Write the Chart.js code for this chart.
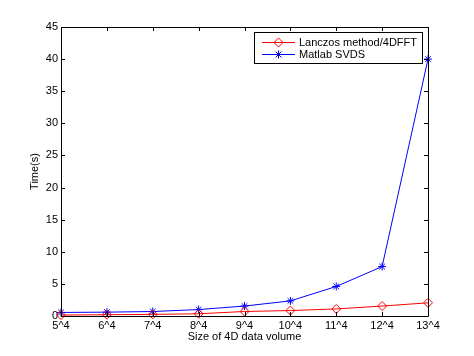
<!DOCTYPE html>
<html>
<head>
<meta charset="utf-8">
<script src="https://cdn.jsdelivr.net/npm/chart.js@4/dist/chart.umd.min.js"></script>
<style>
  html, body { margin: 0; padding: 0; background: #ffffff; }
  #wrap { width: 474px; height: 356px; }
</style>
</head>
<body>
<div id="wrap"><canvas id="c" width="474" height="356"></canvas></div>
<script>
const categories = ['5^4', '6^4', '7^4', '8^4', '9^4', '10^4', '11^4', '12^4', '13^4'];
const lanczosTimes = [0.15, 0.2, 0.25, 0.35, 0.7, 0.85, 1.1, 1.55, 2.05];
const svdsTimes = [0.55, 0.6, 0.7, 1.0, 1.55, 2.35, 4.6, 7.7, 40.0];
const seriesNames = ['Lanczos method/4DFFT', 'Matlab SVDS'];
const yTicks = [0, 5, 10, 15, 20, 25, 30, 35, 40, 45];
const xTitle = 'Size of 4D data volume';
const yTitle = 'Time(s)';

const FONT = '"Liberation Sans", Arial, Helvetica, sans-serif';
const RED = '#ff0000';
const BLUE = '#0000ff';

const matlabFrame = {
  id: 'matlabFrame',
  afterDatasetsDraw(chart) {
    const ctx = chart.ctx;
    const a = chart.chartArea;
    const xs = chart.scales.x, ys = chart.scales.y;
    const L = 4;
    ctx.save();
    ctx.strokeStyle = '#000';
    ctx.lineWidth = 1;
    ctx.beginPath();
    ctx.rect(Math.round(a.left) + 0.5, Math.round(a.top) + 0.5,
             Math.round(a.right - a.left), Math.round(a.bottom - a.top));
    ctx.stroke();
    ctx.beginPath();
    categories.forEach((c, i) => {
      const px = Math.round(xs.getPixelForValue(i)) + 0.5;
      ctx.moveTo(px, a.bottom); ctx.lineTo(px, a.bottom - L);
      ctx.moveTo(px, a.top); ctx.lineTo(px, a.top + L);
    });
    yTicks.forEach(v => {
      const py = Math.round(ys.getPixelForValue(v)) + 0.5;
      ctx.moveTo(a.left, py); ctx.lineTo(a.left + L, py);
      ctx.moveTo(a.right, py); ctx.lineTo(a.right - L, py);
    });
    ctx.stroke();
    ctx.restore();
  }
};

const matlabLegend = {
  id: 'matlabLegend',
  afterDraw(chart) {
    const ctx = chart.ctx;
    const a = chart.chartArea;
    const boxRight = a.right - 6, boxTop = a.top + 5;
    const boxW = 168, boxH = 31;
    const boxLeft = boxRight - boxW;
    ctx.save();
    ctx.fillStyle = '#fff';
    ctx.fillRect(boxLeft, boxTop, boxW, boxH);
    ctx.strokeStyle = '#000';
    ctx.lineWidth = 1;
    ctx.strokeRect(Math.round(boxLeft) + 0.5, Math.round(boxTop) + 0.5, boxW, boxH);
    const ds = chart.data.datasets;
    ds.forEach((d, i) => {
      const y = Math.round(boxTop + 10 + i * 12) + 0.5;
      const x0 = boxLeft + 8, x1 = boxLeft + 41;
      ctx.strokeStyle = d.borderColor;
      ctx.fillStyle = d.pointBackgroundColor;
      ctx.lineWidth = 1;
      ctx.beginPath();
      ctx.moveTo(x0, y); ctx.lineTo(x1, y);
      ctx.stroke();
      Chart.helpers.drawPoint(ctx, {
        pointStyle: d.pointStyle, radius: d.pointRadius, rotation: 0, borderWidth: 1
      }, (x0 + x1) / 2, y);
      ctx.fillStyle = '#000';
      ctx.font = '11px ' + FONT;
      ctx.textBaseline = 'middle';
      ctx.textAlign = 'left';
      ctx.fillText(d.label, x1 + 4, y);
    });
    ctx.restore();
  }
};

new Chart(document.getElementById('c'), {
  type: 'line',
  data: {
    labels: categories,
    datasets: [
      {
        label: seriesNames[0],
        data: lanczosTimes,
        borderColor: RED,
        backgroundColor: 'rgba(0,0,0,0)',
        borderWidth: 1,
        pointStyle: 'rectRot',
        pointRadius: 4.5,
        pointBorderColor: RED,
        pointBackgroundColor: 'rgba(0,0,0,0)',
        pointBorderWidth: 1,
        tension: 0,
        clip: false
      },
      {
        label: seriesNames[1],
        data: svdsTimes,
        borderColor: BLUE,
        backgroundColor: 'rgba(0,0,0,0)',
        borderWidth: 1,
        pointStyle: 'star',
        pointRadius: 4,
        pointBorderColor: BLUE,
        pointBackgroundColor: BLUE,
        pointBorderWidth: 1,
        tension: 0,
        clip: false
      }
    ]
  },
  options: {
    responsive: false,
    animation: false,
    devicePixelRatio: 1,
    layout: { padding: { left: 0, right: 46, top: 27, bottom: 0 } },
    plugins: {
      legend: { display: false },
      tooltip: { enabled: false },
      title: { display: false }
    },
    scales: {
      x: {
        type: 'category',
        offset: false,
        grid: { display: false, drawTicks: false },
        border: { display: false },
        ticks: {
          color: '#000',
          font: { family: FONT, size: 11 },
          padding: 3,
          maxRotation: 0,
          autoSkip: false
        },
        title: {
          display: true,
          text: xTitle,
          color: '#000',
          font: { family: FONT, size: 11 },
          padding: { top: 0, bottom: 12.4 }
        },
        afterFit(scale) { scale.height = 40; }
      },
      y: {
        min: 0,
        max: 45,
        grid: { display: false, drawTicks: false },
        border: { display: false },
        afterBuildTicks(scale) { scale.ticks = yTicks.map(v => ({ value: v })); },
        ticks: {
          color: '#000',
          font: { family: FONT, size: 11 },
          padding: 3
        },
        title: {
          display: true,
          text: yTitle,
          color: '#000',
          font: { family: FONT, size: 11 },
          padding: { top: 28.4, bottom: 0 }
        },
        afterFit(scale) { scale.width = 61; }
      }
    }
  },
  plugins: [matlabFrame, matlabLegend]
});
</script>
</body>
</html>
